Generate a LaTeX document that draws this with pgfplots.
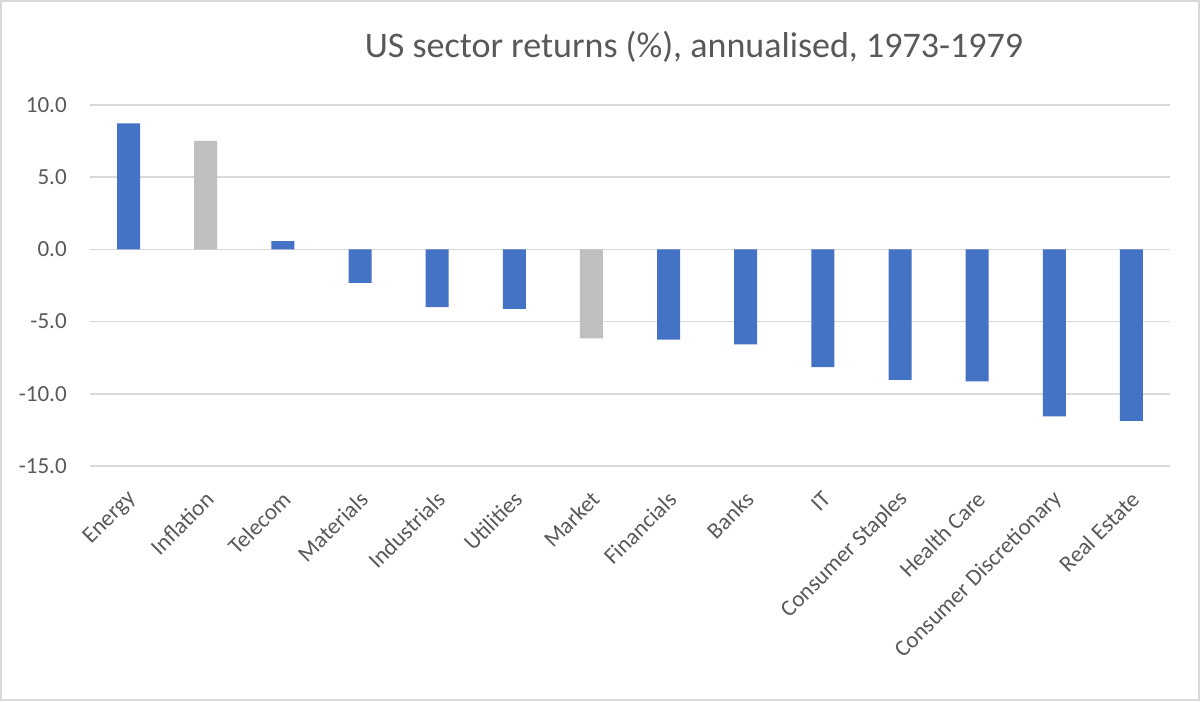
\documentclass[border=0pt]{standalone}
\usepackage{fontspec}
\setmainfont{Carlito}
\usepackage{pgfplots}
\pgfplotsset{compat=1.18}
\definecolor{barblue}{HTML}{4472C4}
\definecolor{bargray}{HTML}{BFBFBF}
\definecolor{txtgray}{HTML}{595959}
\definecolor{gridgray}{HTML}{D9D9D9}
\begin{document}
\begin{tikzpicture}
\useasboundingbox (0,0) rectangle (900pt,525.75pt);
\draw[gridgray, line width=1.5pt] (0.75pt,0.75pt) rectangle (899.25pt,525pt);
\node[anchor=base, text=txtgray, font=\fontsize{27pt}{32pt}\selectfont, inner sep=0pt]
  at (520.5pt,482.25pt) {US sector returns (\%), annualised, 1973-1979};
\begin{axis}[
  at={(67.5pt,176.25pt)}, anchor=south west,
  scale only axis, width=810pt, height=270.75pt,
  xmin=-0.5, xmax=13.5, ymin=-15, ymax=10,
  ytick={-15,-10,-5,0,5,10},
  xtick={0,...,13},
  xticklabels={Energy,Inflation,Telecom,Materials,Industrials,Utilities,Market,Financials,Banks,IT,Consumer Staples,Health Care,Consumer Discretionary,Real Estate},
  ymajorgrids, major grid style={gridgray, line width=1.3pt},
  axis line style={draw=none},
  major tick length=0pt,
  /pgf/number format/assume math mode=true,
  yticklabel={\pgfmathprintnumber[fixed,fixed zerofill,precision=1]{\tick}},
  yticklabel style={anchor=east, inner sep=0pt, xshift=-17.25pt, text=txtgray, font=\fontsize{17.3pt}{20pt}\selectfont},
  xticklabel style={xshift=3pt, yshift=-22pt, rotate=45, anchor=east, inner sep=0pt, text=txtgray, font=\fontsize{17.3pt}{20pt}\selectfont},
  ybar, bar width=17.25pt,
]
\addplot[fill=barblue, draw=none, bar shift=0pt] coordinates {
  (0,8.73) (2,0.58) (3,-2.31) (4,-4.0) (5,-4.12) (7,-6.25) (8,-6.57) (9,-8.15) (10,-9.03) (11,-9.14) (12,-11.57) (13,-11.88)};
\addplot[fill=bargray, draw=none, bar shift=0pt] coordinates {
  (1,7.52) (6,-6.16)};
\end{axis}
\end{tikzpicture}
\end{document}
